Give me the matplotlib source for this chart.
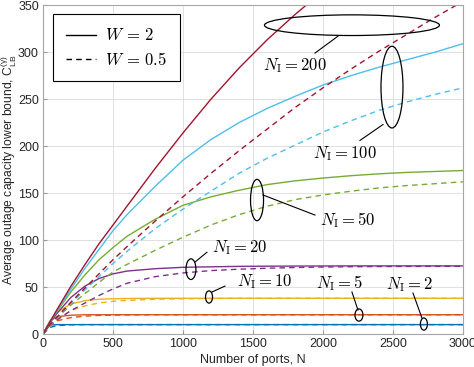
import numpy as np
import matplotlib
matplotlib.use("Agg")
import matplotlib.pyplot as plt
from matplotlib.patches import Ellipse

plt.rcParams['font.family'] = ['Liberation Sans', 'DejaVu Sans']
plt.rcParams['mathtext.fontset'] = 'cm'

# number of ports
N = [0, 50, 100, 200, 300, 400, 500, 600, 800, 1000, 1200, 1400, 1600, 1800,
     2000, 2200, 2400, 2600, 2800, 3000]

# W = 2 (solid)
c200_w2 = [0, 13, 26, 51, 74, 96, 116, 136, 176, 214, 250, 283, 313, 340,
           365, 388, 410, 430, 448, 465]
c100_w2 = [0, 13, 25, 48, 70, 90, 110, 127, 157, 185, 207, 225, 240, 253,
           265, 275, 284, 292, 300, 309]
c50_w2 = [0, 13, 24, 45, 63, 79, 92, 104, 122, 137, 146, 153, 159, 163,
          166, 168.5, 170.5, 172, 173, 174]
c20_w2 = [0, 12, 22, 39, 51, 59, 64, 67, 69.5, 71, 71.5, 72, 72.2, 72.3,
          72.4, 72.5, 72.5, 72.5, 72.5, 72.5]
c10_w2 = [0, 14, 23, 32, 35.5, 37, 37.5, 37.8, 38, 38, 38, 38, 38, 38,
          38, 38, 38, 38, 38, 38]
c5_w2 = [0, 14, 18.5, 20, 20.5, 20.5, 20.5, 20.5, 20.5, 20.5, 20.5, 20.5,
         20.5, 20.5, 20.5, 20.5, 20.5, 20.5, 20.5, 20.5]
c2_w2 = [0, 9.5, 10, 10, 10, 10, 10, 10, 10, 10, 10, 10, 10, 10, 10, 10,
         10, 10, 10, 10]

# W = 0.5 (dashed)
c200_w05 = [0, 10, 18, 34, 49, 64, 79, 93, 120, 146, 171, 195, 218, 241,
            262, 282, 301, 319, 337, 354]
c100_w05 = [0, 10, 18, 33, 47, 61, 75, 88, 112, 133, 152, 171, 187, 201,
            215, 227, 238, 247, 255, 262]
c50_w05 = [0, 9, 17, 31, 43, 55, 66, 74, 89, 103, 116, 127, 136, 143,
           148, 152, 155.5, 158, 160, 162]
c20_w05 = [0, 9, 15, 25, 33, 41, 48, 54, 61, 65, 67.5, 69, 70, 70.8,
           71.3, 71.6, 71.8, 71.9, 72, 72]
c10_w05 = [0, 9, 15, 25, 30, 33, 34.8, 35.8, 37, 37.5, 37.8, 38, 38, 38,
           38, 38, 38, 38, 38, 38]
c5_w05 = [0, 9, 14, 17.5, 19, 19.8, 20.1, 20.3, 20.5, 20.5, 20.5, 20.5,
          20.5, 20.5, 20.5, 20.5, 20.5, 20.5, 20.5, 20.5]
c2_w05 = [0, 7, 9, 9.8, 10, 10, 10, 10, 10, 10, 10, 10, 10, 10, 10, 10,
          10, 10, 10, 10]

colors = ['#0072BD', '#D95319', '#EDB120', '#7E2F8E', '#77AC30', '#4DBEEE', '#A2142F']
solid = [c2_w2, c5_w2, c10_w2, c20_w2, c50_w2, c100_w2, c200_w2]
dashed = [c2_w05, c5_w05, c10_w05, c20_w05, c50_w05, c100_w05, c200_w05]

fig = plt.figure(figsize=(4.74, 3.67), dpi=100)
ax = fig.add_axes([0.0907, 0.0899, 0.886, 0.896])

for col, ys, yd in zip(colors, solid, dashed):
    ax.plot(N, ys, color=col, lw=1.0)
    ax.plot(N, yd, color=col, lw=1.0, dashes=(4, 3))

ax.set_xlim(0, 3000)
ax.set_ylim(0, 350)
ax.set_xticks(range(0, 3001, 500))
ax.set_yticks(range(0, 351, 50))
ax.grid(True, color='0.88', lw=0.7)
ax.set_axisbelow(True)
ax.tick_params(direction='in', length=3, labelsize=9, colors='0.6',
               labelcolor='0.15', pad=3)
for s in ax.spines.values():
    s.set_color('0.65')
    s.set_linewidth(0.8)

ax.set_xlabel('Number of ports, N', fontsize=9, color='0.15', labelpad=3)
ax.set_ylabel(r'Average outage capacity lower bound, $\mathregular{C_{LB}^{(\gamma)}}$',
              fontsize=8.7, color='0.15')
ax.yaxis.set_label_coords(-0.058, 0.5)

# legend
l1, = ax.plot([], [], 'k-', lw=1.0)
l2, = ax.plot([], [], 'k', lw=1.0, dashes=(4, 3))
leg = ax.legend([l1, l2], [r'$W\,=\,2$', r'$W\,=\,0.5$'], loc='upper left',
                bbox_to_anchor=(0.024, 0.973), borderaxespad=0, fontsize=12,
                fancybox=False, framealpha=1, edgecolor='k', handlelength=1.8,
                handletextpad=0.5, borderpad=0.8, labelspacing=0.45)
leg.get_frame().set_linewidth(0.8)

# annotations: (ellipse center, width, height, leader start, leader end, text pos, label)
notes = [
    ((2207, 328.7), 1250, 22, (2107, 317), (1943, 299), (1800, 286), 200),
    ((2493, 262.8), 157, 87, (2429, 223), (2264, 206), (2157, 192), 100),
    ((1529, 142.6), 93, 44, (1571, 148), (1943, 126.6), (2179, 121), 50),
    ((1057, 69), 71, 22, (1086, 76.6), (1171, 87), (1407, 91.5), 20),
    ((1186, 39.4), 50, 13, (1207, 44.7), (1300, 51), (1586, 55.3), 10),
    ((2257, 20.2), 57, 13, (2207, 44.7), (2250, 25.5), (2121, 54.3), 5),
    ((2721, 10.6), 50, 13, (2643, 43.6), (2707, 17), (2621, 53), 2),
]
for c, w, h, p1, p2, tp, lab in notes:
    ax.add_patch(Ellipse(c, w, h, fill=False, ec='k', lw=0.9, zorder=5))
    ax.plot([p1[0], p2[0]], [p1[1], p2[1]], color='k', lw=0.8, zorder=5)
    ax.text(tp[0], tp[1], r'$N_{\rm I} = %d$' % lab, fontsize=12,
            ha='center', va='center', zorder=6)

fig.savefig('out.png', dpi=100)
